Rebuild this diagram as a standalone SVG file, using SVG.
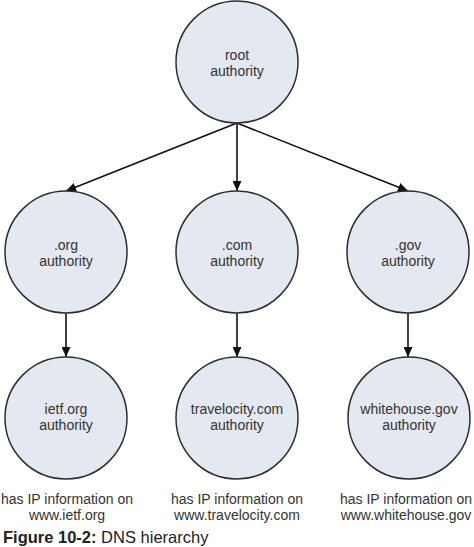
<svg xmlns="http://www.w3.org/2000/svg" width="474" height="547" viewBox="0 0 474 547">
<style>
.node circle{fill:#e4e8f1;stroke:#2e2e2e;stroke-width:1.5}
.node text{font-family:"Liberation Sans",Arial,sans-serif;font-size:14px;fill:#333;text-anchor:middle}
.lbl{font-family:"Liberation Sans",Arial,sans-serif;font-size:14px;fill:#333;text-anchor:middle}
.edges line{stroke:#111;stroke-width:1.6;marker-end:url(#ah)}
.cap{font-family:"Liberation Sans",Arial,sans-serif;font-size:16.5px;fill:#222}
</style>
<defs>
<marker id="ah" markerUnits="userSpaceOnUse" markerWidth="10" markerHeight="9" refX="10" refY="4.5" orient="auto">
<path d="M0,0 L10,4.5 L0,9 z" fill="#111"/>
</marker>
</defs>
<rect width="474" height="547" fill="#fff"/>
<g class="edges">
<line x1="237" y1="123" x2="66" y2="191"/>
<line x1="237" y1="123" x2="237" y2="191"/>
<line x1="237" y1="123" x2="408" y2="191"/>
<line x1="66" y1="313" x2="66" y2="357"/>
<line x1="237" y1="313" x2="237" y2="357"/>
<line x1="408" y1="313" x2="408" y2="357"/>
</g>
<g id="root" class="node"><circle cx="237" cy="62" r="61"/><text x="237" y="60">root</text><text x="237" y="76">authority</text></g>
<g id="org" class="node"><circle cx="66" cy="252" r="61"/><text x="66" y="250">.org</text><text x="66" y="266">authority</text></g>
<g id="com" class="node"><circle cx="237" cy="252" r="61"/><text x="237" y="250">.com</text><text x="237" y="266">authority</text></g>
<g id="gov" class="node"><circle cx="408" cy="252" r="61"/><text x="408" y="250">.gov</text><text x="408" y="266">authority</text></g>
<g id="ietf" class="node"><circle cx="66" cy="418" r="61"/><text x="66" y="414">ietf.org</text><text x="66" y="430">authority</text></g>
<g id="travelocity" class="node"><circle cx="237" cy="418" r="61"/><text x="237" y="414">travelocity.com</text><text x="237" y="430">authority</text></g>
<g id="whitehouse" class="node"><circle cx="409" cy="418" r="61"/><text x="409" y="414">whitehouse.gov</text><text x="409" y="430">authority</text></g>
<text class="lbl" x="67" y="504">has IP information on</text>
<text class="lbl" x="67" y="520">www.ietf.org</text>
<text class="lbl" x="237" y="504">has IP information on</text>
<text class="lbl" x="237" y="520">www.travelocity.com</text>
<text class="lbl" x="406" y="504">has IP information on</text>
<text class="lbl" x="406" y="520">www.whitehouse.gov</text>
<text class="cap" x="3" y="543"><tspan font-weight="bold">Figure 10-2:</tspan> DNS hierarchy</text>
</svg>
